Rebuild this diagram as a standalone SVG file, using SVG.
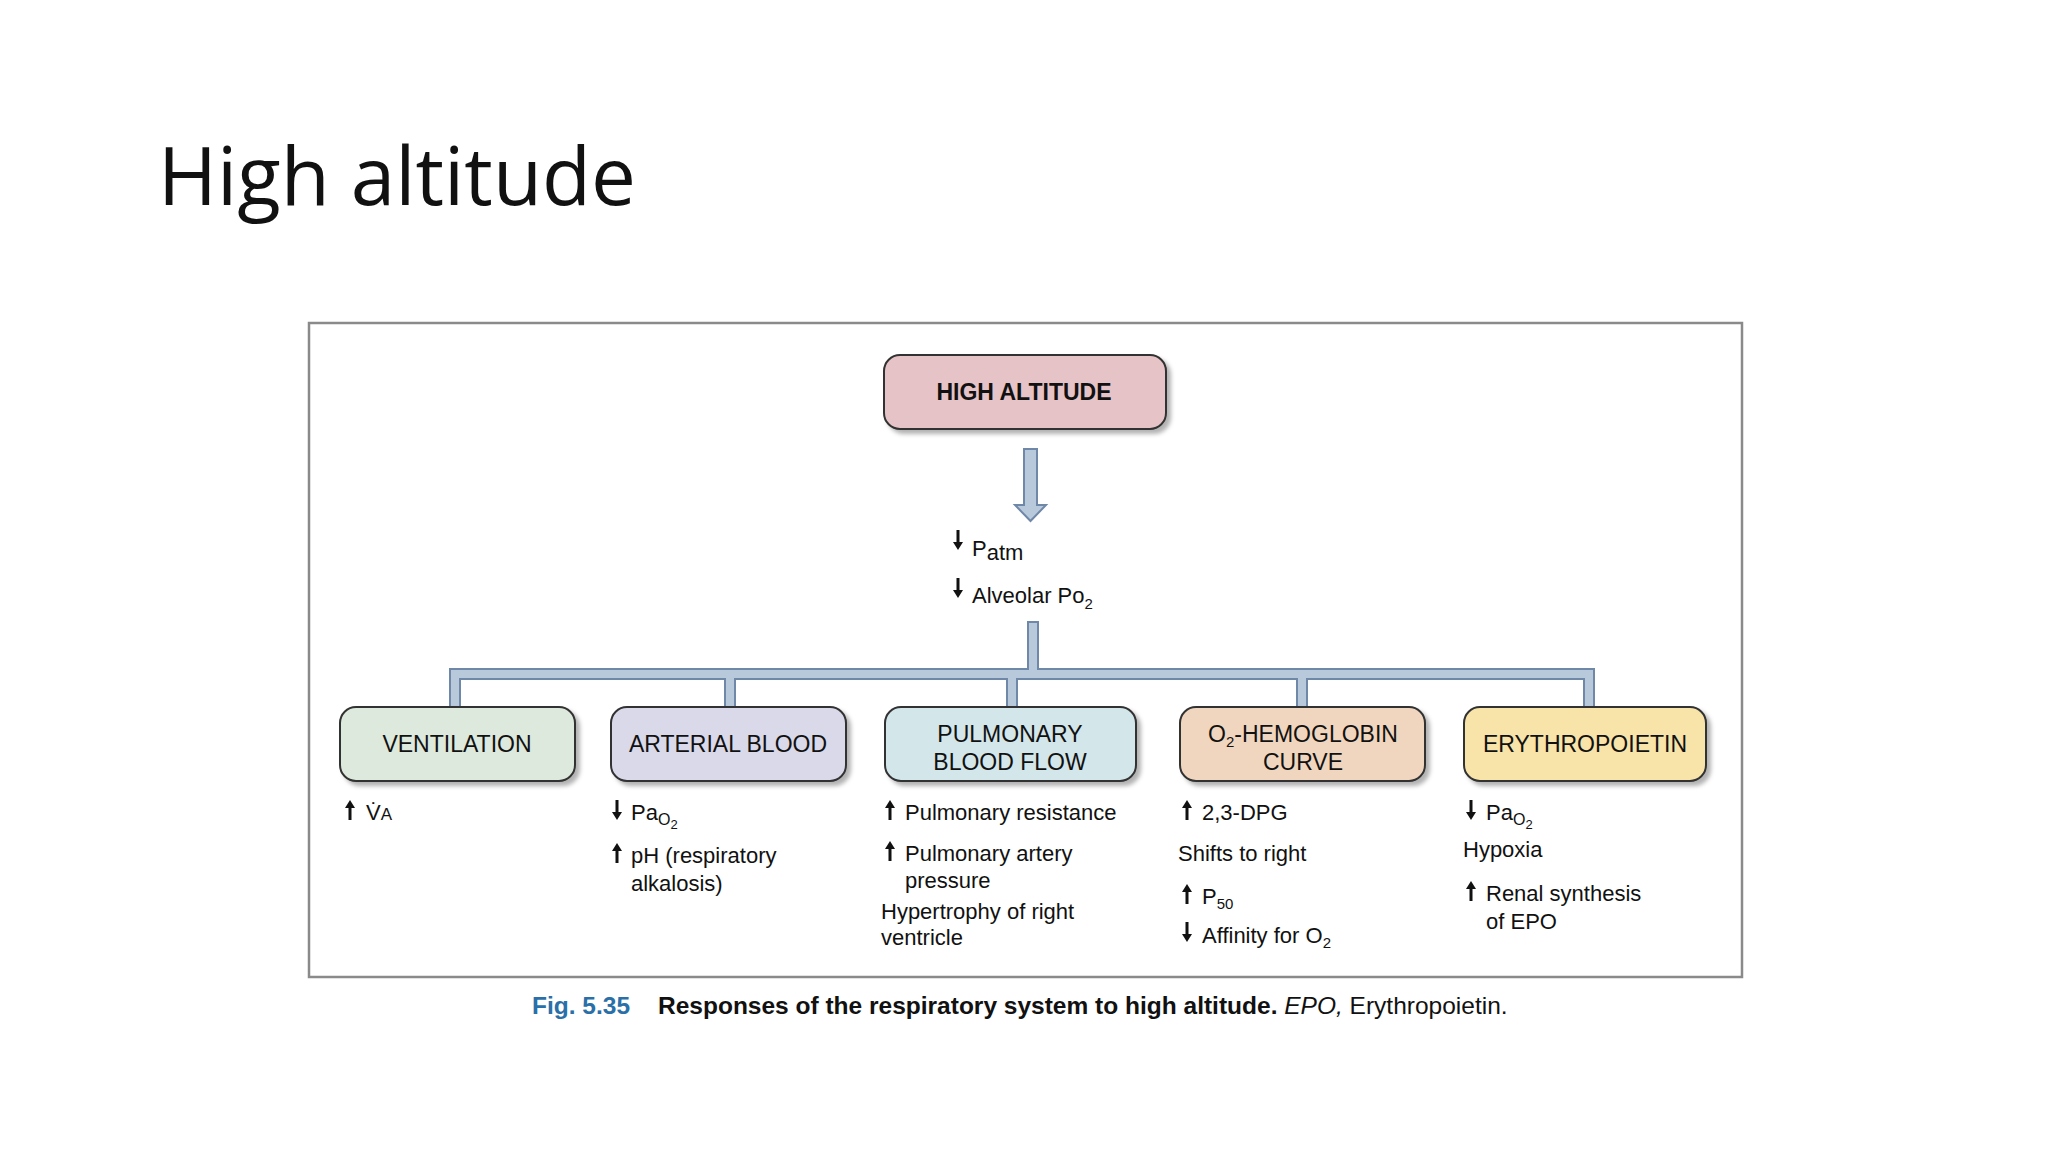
<svg xmlns="http://www.w3.org/2000/svg" xmlns:xlink="http://www.w3.org/1999/xlink" width="2048" height="1152" viewBox="0 0 2048 1152">
<defs>
<style>
.t{font-family:"Liberation Sans",Arial,sans-serif;font-size:22px;fill:#111}
.bx{font-family:"Liberation Sans",Arial,sans-serif;font-size:23px;fill:#111;text-anchor:middle}
.node{stroke:#333;stroke-width:2}
.bar{fill:#b9c9dc;stroke:#6f88a8;stroke-width:2}
</style>
<filter id="sh" x="-10%" y="-10%" width="130%" height="140%"><feDropShadow dx="4" dy="4" stdDeviation="2" flood-color="#000" flood-opacity="0.3"/></filter>
<g id="up"><path d="M0,0 L-5,8 L-1.5,8 L-1.5,20 L1.5,20 L1.5,8 L5,8 Z" fill="#111"/></g>
<g id="dn"><path d="M0,20 L-5,12 L-1.5,12 L-1.5,0 L1.5,0 L1.5,12 L5,12 Z" fill="#111"/></g>
</defs>
<rect width="2048" height="1152" fill="#fff"/>
<text x="158" y="205" font-family="'Open Sans','Noto Sans',sans-serif" font-size="80" fill="#111" textLength="478">High altitude</text>
<rect x="309" y="323" width="1433" height="654" fill="#fff" stroke="#8a8a8a" stroke-width="2.5"/>

<g id="connectors">
<path class="bar" d="M1024,449 h13 v56 h9 l-15.5,16 l-15.5,-16 h9 z"/>
<path class="bar" d="M1028,622 h10 v47 h556 v38 h-10 v-28 h-277 v28 h-10 v-28 h-280 v28 h-10 v-28 h-272 v28 h-10 v-28 h-265 v28 h-10 v-38 h578 z"/>
</g>

<g id="n-high"><rect class="node" x="884" y="355" width="282" height="74" rx="16" fill="#e6c3c6" filter="url(#sh)"/>
<text class="bx" x="1024" y="400" font-weight="bold">HIGH ALTITUDE</text></g>

<g id="n-patm"><use xlink:href="#dn" x="958" y="530"/><text class="t" x="972" y="556">P<tspan font-size="22" dy="4">atm</tspan></text>
<use xlink:href="#dn" x="958" y="578"/><text class="t" x="972" y="603">Alveolar Po<tspan font-size="15" dy="6">2</tspan></text></g>

<g id="n-vent"><rect class="node" x="340" y="707" width="235" height="74" rx="16" fill="#dde9dd" filter="url(#sh)"/>
<text class="bx" x="457" y="752">VENTILATION</text>
<use xlink:href="#up" x="350" y="800"/><text class="t" x="366" y="820">V̇<tspan font-size="17">A</tspan></text></g>

<g id="n-art"><rect class="node" x="611" y="707" width="235" height="74" rx="16" fill="#d9d9ea" filter="url(#sh)"/>
<text class="bx" x="728" y="752">ARTERIAL BLOOD</text>
<use xlink:href="#dn" x="617" y="800"/><text class="t" x="631" y="820">Pa<tspan font-size="16" dy="5">O</tspan><tspan font-size="13" dy="4">2</tspan></text>
<use xlink:href="#up" x="617" y="843"/><text class="t" x="631" y="863">pH (respiratory</text>
<text class="t" x="631" y="891">alkalosis)</text></g>

<g id="n-pulm"><rect class="node" x="885" y="707" width="251" height="74" rx="16" fill="#d3e6ea" filter="url(#sh)"/>
<text class="bx" x="1010" y="742">PULMONARY</text><text class="bx" x="1010" y="770">BLOOD FLOW</text>
<use xlink:href="#up" x="890" y="800"/><text class="t" x="905" y="820">Pulmonary resistance</text>
<use xlink:href="#up" x="890" y="841"/><text class="t" x="905" y="861">Pulmonary artery</text>
<text class="t" x="905" y="888">pressure</text>
<text class="t" x="881" y="919">Hypertrophy of right</text>
<text class="t" x="881" y="945">ventricle</text></g>

<g id="n-o2"><rect class="node" x="1180" y="707" width="245" height="74" rx="16" fill="#f1d6bf" filter="url(#sh)"/>
<text class="bx" x="1303" y="742">O<tspan font-size="15" dy="5">2</tspan><tspan dy="-5">-HEMOGLOBIN</tspan></text><text class="bx" x="1303" y="770">CURVE</text>
<use xlink:href="#up" x="1187" y="800"/><text class="t" x="1202" y="820">2,3-DPG</text>
<text class="t" x="1178" y="861">Shifts to right</text>
<use xlink:href="#up" x="1187" y="884"/><text class="t" x="1202" y="904">P<tspan font-size="15" dy="5">50</tspan></text>
<use xlink:href="#dn" x="1187" y="922"/><text class="t" x="1202" y="943">Affinity for O<tspan font-size="15" dy="5">2</tspan></text></g>

<g id="n-epo"><rect class="node" x="1464" y="707" width="242" height="74" rx="16" fill="#f8e3a8" filter="url(#sh)"/>
<text class="bx" x="1585" y="752">ERYTHROPOIETIN</text>
<use xlink:href="#dn" x="1471" y="800"/><text class="t" x="1486" y="820">Pa<tspan font-size="16" dy="5">O</tspan><tspan font-size="13" dy="4">2</tspan></text>
<text class="t" x="1463" y="857">Hypoxia</text>
<use xlink:href="#up" x="1471" y="881"/><text class="t" x="1486" y="901">Renal synthesis</text>
<text class="t" x="1486" y="929">of EPO</text></g>

<text x="532" y="1014" font-family="'Liberation Sans',Arial,sans-serif" font-size="24.5" fill="#111"><tspan font-weight="bold" fill="#2a6fa8">Fig. 5.35</tspan><tspan x="658" font-weight="bold">Responses of the respiratory system to high altitude.</tspan><tspan font-style="italic"> EPO,</tspan> Erythropoietin.</text>
</svg>
